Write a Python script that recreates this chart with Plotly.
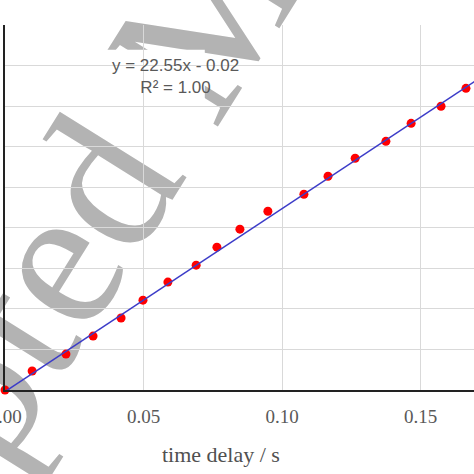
import plotly.graph_objects as go

# measured points (time delay in s, response)
time_delay = [0.0, 0.0098, 0.0220, 0.0318, 0.0419, 0.0498, 0.0588, 0.0690, 0.0765,
              0.0848, 0.0949, 0.1079, 0.1166, 0.1264, 0.1375, 0.1466, 0.1574, 0.1664]
signal = [0.0, 0.234, 0.443, 0.665, 0.887, 1.108, 1.330, 1.539, 1.761,
          1.983, 2.204, 2.414, 2.635, 2.857, 3.066, 3.288, 3.498, 3.719]

# linear fit shown on the chart
slope = 22.55
intercept = -0.02
fit_x = [0.0, 0.17]
fit_y = [slope * v + intercept for v in fit_x]

x_ticks = [0.00, 0.05, 0.10, 0.15]

fig = go.Figure()

fig.add_trace(go.Scatter(x=time_delay, y=signal, mode='markers',
                         marker=dict(color='#ff0000', size=9),
                         showlegend=False, cliponaxis=False))
fig.add_trace(go.Scatter(x=fit_x, y=fit_y, mode='lines',
                         line=dict(color='#3c3cc8', width=1.5),
                         showlegend=False))

# watermark, kept under the grid and the data
wx, wy = 0.3433, 0.967
fig.add_shape(type='rect', xref='paper', yref='paper',
              x0=wx - 0.001, x1=wx + 0.001, y0=wy - 0.001, y1=wy + 0.001,
              line=dict(width=0), fillcolor='rgba(0,0,0,0)', layer='below',
              label=dict(text='Accepted Manuscript', textangle=-58,
                         textposition='middle center',
                         font=dict(family='Liberation Serif', size=205, color='#b3b3b3')))

# white patch behind the fit equation (hides the grid there)
fig.add_shape(type='rect', xref='paper', yref='paper',
              x0=0.209, x1=0.426, y0=0.786, y1=0.932,
              line=dict(width=0), fillcolor='white', layer='between')

fig.add_annotation(text='y = 22.55x - 0.02<br>R² = 1.00', xref='paper', yref='paper',
                   x=0.3646, y=0.86, xanchor='center', yanchor='middle',
                   showarrow=False,
                   font=dict(family='Liberation Sans', size=17, color='#595959'))

fig.add_annotation(text='time delay / s', xref='paper', yref='paper',
                   x=0.4606, y=-0.178, xanchor='center', yanchor='middle',
                   showarrow=False,
                   font=dict(family='Liberation Serif', size=22, color='#505050'))

fig.update_xaxes(range=[0, 0.1693], tickvals=x_ticks, tickformat='.2f',
                 showgrid=True, gridcolor='#d9d9d9', gridwidth=1,
                 showline=True, linecolor='#222222', linewidth=2,
                 zeroline=False, ticks='', ticklabelstandoff=8,
                 ticklabeloverflow='allow', automargin=False,
                 tickfont=dict(family='Liberation Serif', size=19, color='#595959'))
fig.update_yaxes(range=[0, 4.5], dtick=0.5, showticklabels=False,
                 showgrid=True, gridcolor='#d9d9d9', gridwidth=1,
                 showline=True, linecolor='#222222', linewidth=2,
                 zeroline=False, ticks='', automargin=False)

fig.update_layout(width=474, height=474,
                  margin=dict(l=5, r=0, t=25, b=84),
                  paper_bgcolor='white', plot_bgcolor='rgba(0,0,0,0)')

# drop the default page margin so the figure sits at the window corner
fig.write_html("out.html", config={'displayModeBar': False},
               post_script="document.body.style.margin='0';document.body.style.overflow='hidden';")
